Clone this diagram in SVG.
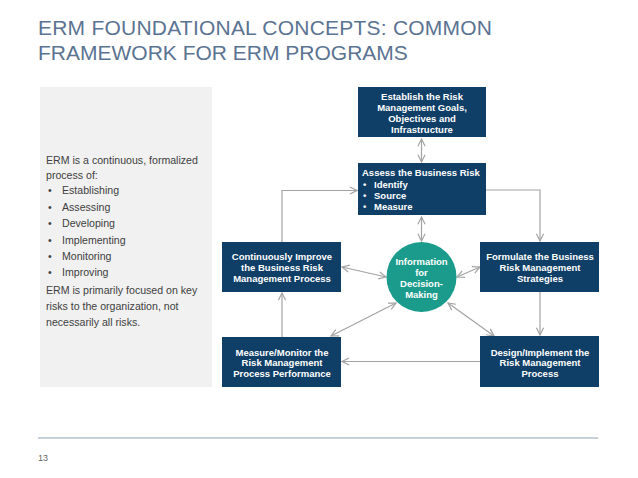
<svg xmlns="http://www.w3.org/2000/svg" width="638" height="478" viewBox="0 0 638 478">
<style>
.title{font-family:"Liberation Sans",Arial,sans-serif;font-size:21px;fill:#5b7392}
.body{font-family:"Liberation Sans",Arial,sans-serif;font-size:10.6px;fill:#404040}
.box{fill:#0f3e66}
.bt{font-family:"Liberation Sans",Arial,sans-serif;font-size:9.5px;font-weight:bold;fill:#ffffff}
.c{text-anchor:middle}
.conn{fill:none;stroke:#a3a3a3;stroke-width:1.2}
</style>
<defs>
<marker id="ah" viewBox="0 0 10 10" refX="9" refY="5" markerWidth="9" markerHeight="9" markerUnits="userSpaceOnUse" orient="auto-start-reverse">
<path d="M1,1 L9,5 L1,9" fill="none" stroke="#a3a3a3" stroke-width="1.3"/>
</marker>
</defs>
<rect width="638" height="478" fill="#ffffff"/>
<g id="title">
<text class="title" x="38" y="35" textLength="454">ERM FOUNDATIONAL CONCEPTS: COMMON</text>
<text class="title" x="38" y="60">FRAMEWORK FOR ERM PROGRAMS</text>
</g>
<g id="panel">
<rect x="40" y="87" width="172" height="300" fill="#f1f1f1"/>
<text class="body" x="46" y="164">ERM is a continuous, formalized</text>
<text class="body" x="46" y="179">process of:</text>
<g class="body">
<text x="48" y="194">•</text><text x="62" y="194">Establishing</text>
<text x="48" y="211">•</text><text x="62" y="211">Assessing</text>
<text x="48" y="227">•</text><text x="62" y="227">Developing</text>
<text x="48" y="244">•</text><text x="62" y="244">Implementing</text>
<text x="48" y="260">•</text><text x="62" y="260">Monitoring</text>
<text x="48" y="276">•</text><text x="62" y="276">Improving</text>
</g>
<text class="body" x="46" y="294">ERM is primarily focused on key</text>
<text class="body" x="46" y="310">risks to the organization, not</text>
<text class="body" x="46" y="326">necessarily all risks.</text>
</g>
<g id="connectors">
<path class="conn" d="M421.5,139 V162" marker-start="url(#ah)" marker-end="url(#ah)"/>
<path class="conn" d="M486,190 H540 V241" marker-end="url(#ah)"/>
<path class="conn" d="M282,242 V190.5 H357" marker-end="url(#ah)"/>
<path class="conn" d="M421.5,217 V241" marker-start="url(#ah)" marker-end="url(#ah)"/>
<path class="conn" d="M342,267 L386,277" marker-start="url(#ah)" marker-end="url(#ah)"/>
<path class="conn" d="M457,277 L480,267" marker-start="url(#ah)" marker-end="url(#ah)"/>
<path class="conn" d="M540,292 V335" marker-end="url(#ah)"/>
<path class="conn" d="M480,361.5 H342" marker-end="url(#ah)"/>
<path class="conn" d="M282,337 V293" marker-end="url(#ah)"/>
<path class="conn" d="M331,336 L396,303" marker-start="url(#ah)" marker-end="url(#ah)"/>
<path class="conn" d="M448,303 L494,336" marker-start="url(#ah)" marker-end="url(#ah)"/>
</g>
<g id="establish">
<rect class="box" x="358" y="87" width="128" height="50"/>
<text class="bt c" x="422" y="100">Establish the Risk</text>
<text class="bt c" x="422" y="111">Management Goals,</text>
<text class="bt c" x="422" y="122">Objectives and</text>
<text class="bt c" x="422" y="133">Infrastructure</text>
</g>
<g id="assess">
<rect class="box" x="358" y="163" width="128" height="52"/>
<text class="bt" x="362" y="176">Assess the Business Risk</text>
<text class="bt" x="363" y="188">•</text><text class="bt" x="374" y="188">Identify</text>
<text class="bt" x="363" y="199">•</text><text class="bt" x="374" y="199">Source</text>
<text class="bt" x="363" y="210">•</text><text class="bt" x="374" y="210">Measure</text>
</g>
<g id="improve">
<rect class="box" x="222" y="242" width="119" height="50"/>
<text class="bt c" x="282" y="260">Continuously Improve</text>
<text class="bt c" x="282" y="271">the Business Risk</text>
<text class="bt c" x="282" y="282">Management Process</text>
</g>
<g id="formulate">
<rect class="box" x="480" y="242" width="119" height="50"/>
<text class="bt c" x="540" y="260">Formulate the Business</text>
<text class="bt c" x="540" y="271">Risk Management</text>
<text class="bt c" x="540" y="282">Strategies</text>
</g>
<g id="info">
<circle cx="421.5" cy="277" r="35" fill="#1a9b8b"/>
<text class="bt c" x="421.5" y="265">Information</text>
<text class="bt c" x="421.5" y="276">for</text>
<text class="bt c" x="421.5" y="287">Decision-</text>
<text class="bt c" x="421.5" y="298">Making</text>
</g>
<g id="measure">
<rect class="box" x="222" y="337" width="119" height="50"/>
<text class="bt c" x="282" y="356">Measure/Monitor the</text>
<text class="bt c" x="282" y="366">Risk Management</text>
<text class="bt c" x="282" y="377">Process Performance</text>
</g>
<g id="design">
<rect class="box" x="480" y="336" width="119" height="51"/>
<text class="bt c" x="540" y="356">Design/Implement the</text>
<text class="bt c" x="540" y="366">Risk Management</text>
<text class="bt c" x="540" y="377">Process</text>
</g>
<g id="footer">
<line x1="38" y1="438" x2="598" y2="438" stroke="#8ea2b8" stroke-width="1.2"/>
<text x="38" y="461" font-family="Liberation Sans,Arial,sans-serif" font-size="9" fill="#666666">13</text>
</g>
</svg>
